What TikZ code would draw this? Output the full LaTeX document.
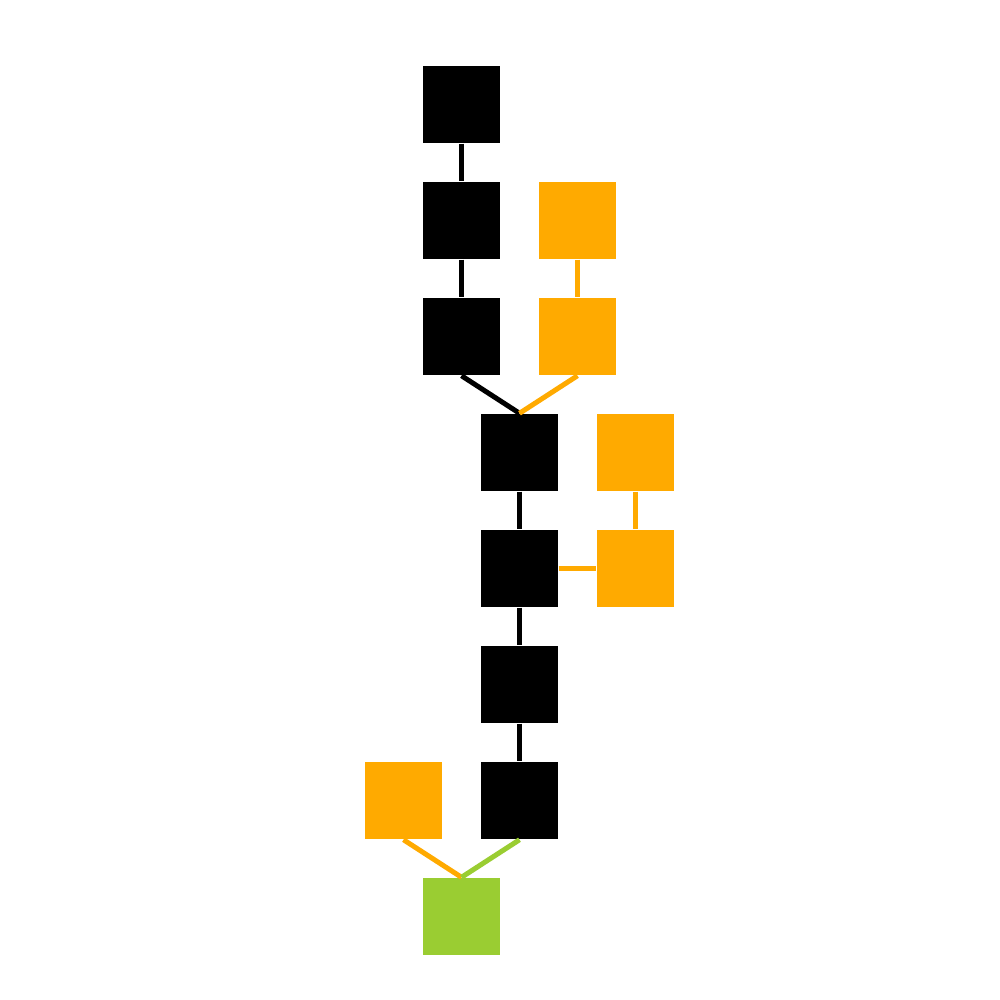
\documentclass[tikz,border=0pt]{standalone}
\begin{document}
\begin{tikzpicture}[x=0.01cm,y=-0.01cm,
  sq/.style={rectangle,minimum size=0.77cm,inner sep=0pt,draw=none},
  blk/.style={sq,fill=black},
  org/.style={sq,fill=orangeC},
  grn/.style={sq,fill=greenC},
  lk/.style={line width=0.05cm},
  lblack/.style={lk,draw=black},
  lorange/.style={lk,draw=orangeC},
  lgreen/.style={lk,draw=greenC}]
\definecolor{orangeC}{HTML}{FFAA00}
\definecolor{greenC}{HTML}{9ACD32}
\useasboundingbox (0,0) rectangle (1000,1000);
\fill[white] (0,0) rectangle (1000,1000);
% connectors (drawn first, below nodes)
\node[blk] (a1) at (461.5,104.5) {};
\node[blk] (a2) at (461.5,220.5) {};
\node[blk] (a3) at (461.5,336.5) {};
\node[org] (o1) at (577.5,220.5) {};
\node[org] (o2) at (577.5,336.5) {};
\node[blk] (b1) at (519.5,452.5) {};
\node[org] (o3) at (635.5,452.5) {};
\node[blk] (b2) at (519.5,568.5) {};
\node[org] (o4) at (635.5,568.5) {};
\node[blk] (b3) at (519.5,684.5) {};
\node[blk] (b4) at (519.5,800.5) {};
\node[org] (o5) at (403.5,800.5) {};
\node[grn] (g) at (461.5,916.5) {};
\draw[lblack] (a1.south) -- (a2.north);
\draw[lblack] (a2.south) -- (a3.north);
\draw[lblack] (a3.south) -- (b1.north);
\draw[lorange] (o1.south) -- (o2.north);
\draw[lorange] (o2.south) -- (b1.north);
\draw[lblack] (b1.south) -- (b2.north);
\draw[lorange] (o3.south) -- (o4.north);
\draw[lorange] (b2.east) -- (o4.west);
\draw[lblack] (b2.south) -- (b3.north);
\draw[lblack] (b3.south) -- (b4.north);
\draw[lorange] (o5.south) -- (g.north);
\draw[lgreen] (b4.south) -- (g.north);
\end{tikzpicture}
\end{document}
